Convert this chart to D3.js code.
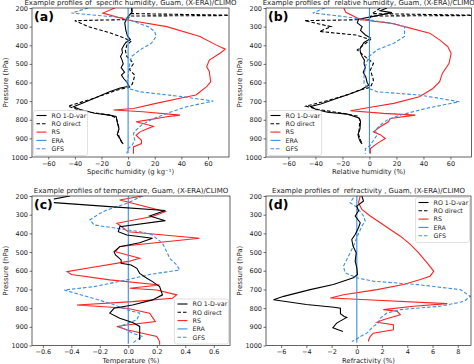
<!DOCTYPE html>
<html>
<head>
<meta charset="utf-8">
<script src="https://cdn.jsdelivr.net/npm/d3@7/dist/d3.min.js"></script>
<style>
  body { margin: 0; background: #fff; }
  svg { display: block; font-family: "DejaVu Sans", sans-serif; }
</style>
</head>
<body>
<div id="app"></div>
<script>
// series: pressure levels (hPa) and (X-ERA)/CLIMO values
const seriesNames = ['RO 1-D-var', 'RO direct', 'RS', 'ERA', 'GFS']
const pressureTicks = [200, 300, 400, 500, 600, 700, 800, 900, 1000]

// (a) specific humidity
const aRo1dP = [200,220,250,280,320,350,370,385,400,420,440,460,480,500,520,545,560,580,600,620,630,650,680,710,730,745,765,775,782,800,820,850,880,900,920,930]
const aRo1dX = [2.5,3.2,-0.5,-2.5,-1.7,-0.5,1.7,-1.7,-3.2,-4.7,-4.2,-5.7,-4.5,-3.7,-5.2,-2.7,-5,-3.2,-0.7,0.7,-6,-14,-24,-34,-41,-36,-25,-14,-9,-8.5,-8,-6.8,-8.2,-6.2,-4.7,-3.7]
const aRoDirP = [200,230,240,243,262,268,300,330,362,380,400,430,460,480,500,530,560,590,610,625,640,660,690,727,745,760,775,790,810,840,870,900,930]
const aRoDirX = [3,2,90,1,0,-40,-30,-15,-2.5,2,-1,-2,-1,2,4,1,5,4,3,1,-8,-16,-28,-45,-38,-28,-14,-9,-8,-7,-7.5,-6.5,-4]
const aRsP = [200,227,263,270,300,353,398,421,443,480,515,541,596,622,667,685,712,740,748,757,775,784,802,811,816,835,850,865,883,910,928,946,982]
const aRsX = [-10,-19,-1,4,29,54,66,73,69,61,59,61,62,59,51,39,21,4,-11,11,39,29,14,6,9,19,14,9,6,10,10,4,4]
const aEraP = [200,980]
const aEraX = [0,0]
const aGfsP = [200,227,254,272,300,326,353,389,425,461,515,569,605,632,650,676,700,730,766,799,829,856,874,910,937,955,982]
const aGfsX = [-30,-42.5,-1,4,15,20,21,17.5,9,2.5,0.8,0,-1.25,0,9,41,64,44,29,17.5,10,6,4,5,3,0,-1]

// (b) relative humidity
const bRo1dP = [200,215,225,245,260,280,300,320,345,360,370,385,400,420,440,460,480,500,520,545,570,600,615,640,660,690,715,728,745,760,770,790,810,850,880,900,920,930]
const bRo1dX = [13,8,16.6,3,-8,-9,-5.4,-6.6,-3,0.7,-0.5,-4,-5.4,-7,-6.6,-5.4,-3.7,-4,-3,-4.6,-2.7,-1.7,-0.5,-6.6,-14,-26,-36,-43.7,-39.5,-31,-16.3,-7.8,-6.6,-7,-8.5,-7.8,-6.6,-5.4]
const bRoDirP = [200,230,240,243,262,268,300,326,345,370,425,470,497,533,587,605,626,640,665,695,727,745,765,780,800,840,880,920,930]
const bRoDirX = [8,2,90,1,0,-48,-28.5,-37,-10,0.7,-9,-1.7,3,0.7,3,2,0.7,-7,-16,-30,-47,-38,-20,-9,-7,-7.5,-8,-6,-5]
const bRsP = [200,223,254,266,281,300,335,371,407,443,497,551,596,632,677,712,730,752,766,775,793,811,838,865,880,901,928,955,982]
const bRsX = [-19,-17.5,-9,-3,15.4,26,44.6,52,58,60.5,59,54,52,47,37,18,3,-14,10.5,34,15.4,14,8,3,8,11.7,5.6,0.7,0.7]
const bEraP = [200,980]
const bEraX = [0,0]
const bGfsP = [200,227,245,259,265,284,300,353,389,425,461,515,569,605,632,650,667,703,739,775,802,829,856,883,910,937,955,982]
const bGfsX = [-33,-42,-20,-6.6,0.7,18,26,26,18,5.6,-0.5,-3,-4,-4,-0.5,5.6,37,66.6,42,22.7,13,8,4.4,5.6,3,0.7,-3,-3]

// (c) temperature
const cRo1dP = [200,230,257,278,307,332,364,391,409,426,450,471,498,515,542,560,569,587,614,640,658,685,729,756,783,801,827,854,877,898,934,970]
const cRo1dX = [-0.41,-0.62,-0.13,0.26,0.15,0.26,-0.06,-0.07,-0.01,0.17,0.08,-0.06,-0.1,-0.09,-0.05,-0.05,0.02,0.06,0.08,0.13,0.17,0.22,0.24,0.17,0.03,-0.1,-0.13,-0.06,0.03,0.08,0.08,0.08]
const cRsP = [200,221,239,284,310,346,391,426,470,498,533,550,587,605,620,649,676,694,703,729,747,765,783,801,827,872,890,898,916,952,979,996]
const cRsX = [0.1,-0.06,0.03,0.26,0.17,-0.08,0,0.5,-0.06,-0.09,0.08,0,-0.29,-0.43,-0.4,-0.13,0.22,0.01,0.2,0.34,0.31,0.03,-0.36,-0.01,0.15,0.19,-0.01,-0.08,-0.01,0.2,0.22,0.22]
const cEraP = [200,990]
const cEraX = [0,0]
const cGfsP = [200,239,275,293,328,355,373,391,409,453,498,533,569,596,620,649,685,703,738,774,809,827,863,898,934,952,970,988]
const cGfsX = [0.1,-0.01,-0.15,-0.2,-0.27,-0.24,-0.08,0.08,0.17,0.24,0.27,0.29,0.34,0.36,0.15,-0.01,-0.24,-0.45,-0.29,-0.13,-0.01,0.08,0.06,-0.06,0.03,0.1,0.06,0.03]

// (d) refractivity
const dRo1dP = [200,227,254,280,307,343,370,406,433,468,504,549,585,620,638,674,701,737,755,781,795,800,830,845,850,880,905,925]
const dRo1dX = [0.4,0.53,0,0.13,-0.13,0.27,0.13,-0.13,-0.4,-0.3,-0.05,-0.13,0,0.05,-0.27,-1.86,-3.7,-5.8,-6.6,-4,-1.8,-1.3,-1.3,-1,-0.8,-1.6,-1.9,-1.1]
const dRsP = [200,236,272,307,343,379,415,459,504,558,603,629,647,674,701,728,746,755,776,790,808,817,835,862,876,889,916,934,952,970,979]
const dRsX = [0.27,0.13,0.4,1.06,1.86,2.65,3.45,4.24,4.9,5.57,6.1,5.8,5.04,3.7,1.6,-1.06,-2.1,0.8,7.16,4.5,2.1,3.2,3.45,2.1,1.6,2.9,2.9,1.3,1.06,0.93,0.93]
const dEraP = [200,985]
const dEraX = [0,0]
const dGfsP = [209,236,260,307,334,361,415,468,504,540,576,611,638,656,674,701,737,764,790,808,826,853,880,898,934,952,970,979]
const dGfsX = [-0.27,-0.53,0,0.53,0.66,0.4,0.05,-0.27,-0.53,-0.8,-1.06,-0.93,0,1.33,4.8,8.2,9,8.5,6.6,3.45,2.4,1.86,1.7,1.3,0.8,0.27,-0.13,-0.4]

const styles = {
  'RO 1-D-var': {color: '#000', dash: null},
  'RO direct': {color: '#000', dash: '3.5,2'},
  'RS': {color: '#f22', dash: null},
  'ERA': {color: '#3a8ee0', dash: null},
  'GFS': {color: '#3a8ee0', dash: '3.5,2'}
}

function zip(p, x) { return p.map((d, i) => ({p: d, x: x[i]})) }

const panels = [
  {id: 'a', left: 32, right: 229, top: 8, bottom: 157, xdom: [-72.2, 75.8], xticks: [-60,-40,-20,0,20,40,60], fmt: d3.format('d'),
   title: 'Example profiles of  specific humidity, Guam, (X-ERA)/CLIMO', xlabel: 'Specific humidity (g kg⁻¹)', legend: 'll',
   series: {'RO 1-D-var': zip(aRo1dP,aRo1dX), 'RO direct': zip(aRoDirP,aRoDirX), 'RS': zip(aRsP,aRsX), 'ERA': zip(aEraP,aEraX), 'GFS': zip(aGfsP,aGfsX)}},
  {id: 'b', left: 266, right: 471.5, top: 8, bottom: 157, xdom: [-76.6, 75.6], xticks: [-60,-40,-20,0,20,40,60], fmt: d3.format('d'),
   title: 'Example profiles of  relative humidity, Guam, (X-ERA)/CLIMO', xlabel: 'Relative humidity (%)', legend: 'll',
   series: {'RO 1-D-var': zip(bRo1dP,bRo1dX), 'RO direct': zip(bRoDirP,bRoDirX), 'RS': zip(bRsP,bRsX), 'ERA': zip(bEraP,bEraX), 'GFS': zip(bGfsP,bGfsX)}},
  {id: 'c', left: 32, right: 230, top: 196, bottom: 345.5, xdom: [-0.676, 0.714], xticks: [-0.6,-0.4,-0.2,0,0.2,0.4,0.6], fmt: d3.format('.1f'),
   title: 'Example profiles of temperature, Guam, (X-ERA)/CLIMO', xlabel: 'Temperature (%)', legend: 'lr',
   series: {'RS': zip(cRsP,cRsX), 'ERA': zip(cEraP,cEraX), 'GFS': zip(cGfsP,cGfsX), 'RO 1-D-var': zip(cRo1dP,cRo1dX)}},
  {id: 'd', left: 266, right: 471, top: 196, bottom: 345.5, xdom: [-7.2, 9.05], xticks: [-6,-4,-2,0,2,4,6,8], fmt: d3.format('d'),
   title: 'Example profiles of  refractivity , Guam, (X-ERA)/CLIMO', xlabel: 'Refractivity (%)', legend: 'ur',
   series: {'RS': zip(dRsP,dRsX), 'ERA': zip(dEraP,dEraX), 'GFS': zip(dGfsP,dGfsX), 'RO 1-D-var': zip(dRo1dP,dRo1dX)}}
]

const svg = d3.select('#app').append('svg').attr('width', 474).attr('height', 364)

for (const pn of panels) {
  const x = d3.scaleLinear().domain(pn.xdom).range([pn.left, pn.right])
  const y = d3.scaleLinear().domain([200, 1000]).range([pn.top, pn.bottom])
  const g = svg.append('g')

  g.append('clipPath').attr('id', 'clip-' + pn.id).append('rect')
    .attr('x', pn.left).attr('y', pn.top).attr('width', pn.right - pn.left).attr('height', pn.bottom - pn.top)

  const line = d3.line().x(d => x(d.x)).y(d => y(d.p))
  const lines = g.append('g').attr('clip-path', 'url(#clip-' + pn.id + ')')
  for (const name of Object.keys(pn.series)) {
    lines.append('path').datum(pn.series[name])
      .attr('d', line).attr('fill', 'none')
      .attr('stroke', styles[name].color).attr('stroke-width', 1.1)
      .attr('stroke-dasharray', styles[name].dash)
  }

  // axes
  const xa = g.append('g').attr('transform', `translate(0,${pn.bottom})`)
    .call(d3.axisBottom(x).tickValues(pn.xticks).tickFormat(pn.fmt).tickSize(2.5).tickPadding(1.5))
  const ya = g.append('g').attr('transform', `translate(${pn.left},0)`)
    .call(d3.axisLeft(y).tickValues(pressureTicks).tickFormat(d3.format('d')).tickSize(2.5).tickPadding(1.5))
  for (const a of [xa, ya]) {
    a.select('.domain').remove()
    a.selectAll('text').attr('font-size', 6.5).attr('fill', '#222').attr('font-family', '"DejaVu Sans", sans-serif')
    a.selectAll('line').attr('stroke', '#333').attr('stroke-width', 0.7)
  }
  g.append('rect').attr('x', pn.left).attr('y', pn.top)
    .attr('width', pn.right - pn.left).attr('height', pn.bottom - pn.top)
    .attr('fill', 'none').attr('stroke', '#222').attr('stroke-width', 0.7)

  // texts
  g.append('text').attr('x', (pn.left + pn.right) / 2).attr('y', pn.top - 2.6)
    .attr('text-anchor', 'middle').attr('font-size', 7).attr('fill', '#222')
    .style('white-space', 'pre').text(pn.title)
  g.append('text').attr('x', (pn.left + pn.right) / 2).attr('y', pn.bottom + 17.2)
    .attr('text-anchor', 'middle').attr('font-size', 6.8).attr('fill', '#222').text(pn.xlabel)
  g.append('text').attr('transform', `translate(${pn.left - 24},${(pn.top + pn.bottom) / 2}) rotate(-90)`)
    .attr('text-anchor', 'middle').attr('font-size', 7).attr('fill', '#222').text('Pressure (hPa)')

  // panel letter with white box behind it
  const labBox = g.append('rect').attr('fill', '#fff')
  const lab = g.append('text').attr('x', pn.left + 2).attr('y', pn.top + 12.5)
    .attr('font-size', 12.5).attr('font-weight', 'bold').attr('fill', '#000').text('(' + pn.id + ')')
  const bb = lab.node().getBBox()
  labBox.attr('x', bb.x - 1).attr('y', bb.y + 1).attr('width', bb.width + 2).attr('height', bb.height - 1)

  // legend
  const lw = 54, lh = 45
  const lx = pn.legend === 'll' ? pn.left + 1.5 : pn.right - lw - 1.5
  const ly = pn.legend === 'ur' ? pn.top + 1.5 : pn.bottom - lh - 1.5
  const leg = g.append('g').attr('transform', `translate(${lx},${ly})`)
  leg.append('rect').attr('width', lw).attr('height', lh).attr('rx', 2)
    .attr('fill', '#fff').attr('fill-opacity', 0.85).attr('stroke', '#ccc').attr('stroke-width', 0.6)
  seriesNames.forEach((name, i) => {
    const yy = 5 + i * 8.3
    leg.append('line').attr('x1', 3).attr('x2', 13).attr('y1', yy).attr('y2', yy)
      .attr('stroke', styles[name].color).attr('stroke-width', 1.1).attr('stroke-dasharray', styles[name].dash)
    leg.append('text').attr('x', 18).attr('y', yy + 2.3).attr('font-size', 6.3).attr('fill', '#222').text(name)
  })
}
</script>
</body>
</html>
